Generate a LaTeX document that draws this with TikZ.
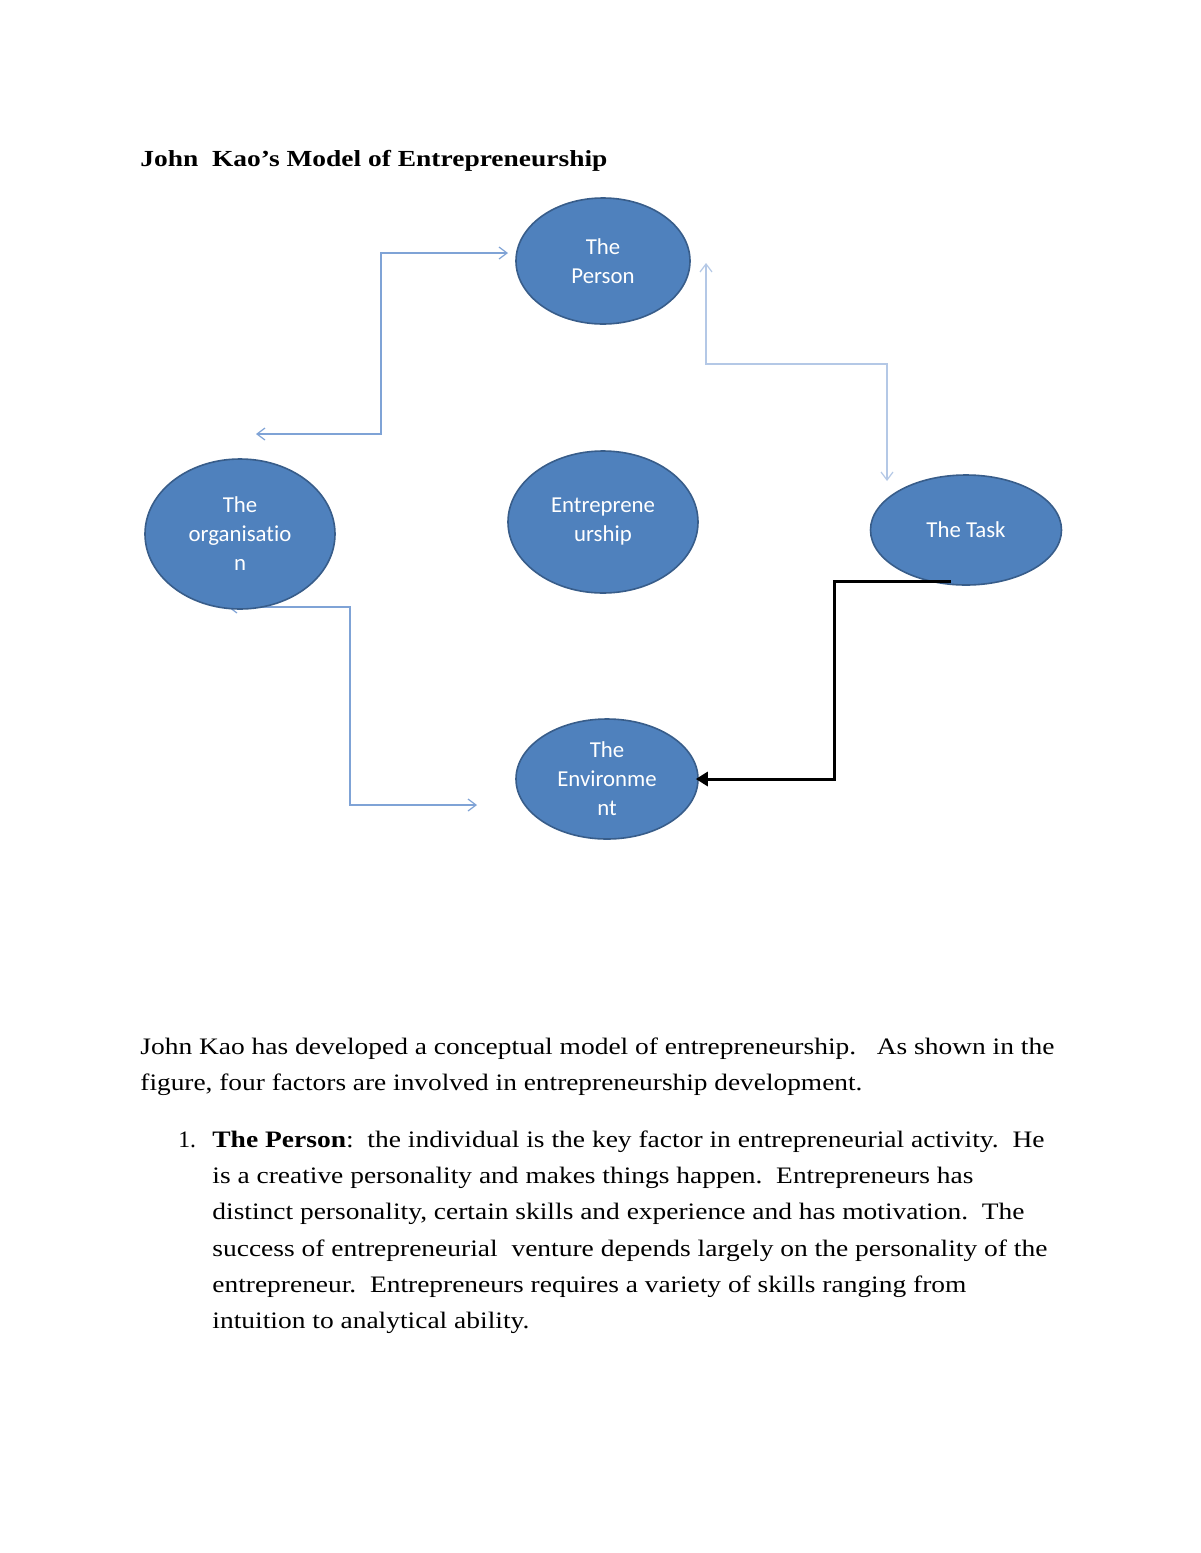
\documentclass[tikz,border=0pt]{standalone}
\usepackage{fontspec}
\setmainfont{Liberation Serif}
\newfontfamily\calib[Ligatures=NoCommon]{Carlito}
\usetikzlibrary{shapes.geometric,arrows.meta}
\definecolor{ovalfill}{HTML}{4F81BD}
\definecolor{ovaldraw}{HTML}{385D8A}
\definecolor{connA}{HTML}{7FA3D6}
\definecolor{connB}{HTML}{B4C8E6}
\newcommand{\fitw}[2]{\resizebox{#1}{\height}{#2}}
\tikzset{
  oval/.style={ellipse, fill=ovalfill, draw=ovaldraw, line width=0.8pt, inner sep=0pt,
    text=white, align=center, font=\calib\fontsize{11.4pt}{14.5pt}\selectfont},
  conn/.style={draw=connA, line width=0.6pt, {Straight Barb[length=4pt,width=6pt]}-{Straight Barb[length=4pt,width=6pt]}},
  connlight/.style={conn, draw=connB},
  thickconn/.style={draw=black, line width=1.5pt, -{Triangle[length=6pt,width=7pt]}},
  bodyline/.style={anchor=base west, inner sep=0pt, font=\fontsize{11.8pt}{14pt}\selectfont},
  titleline/.style={anchor=base west, inner sep=0pt, font=\bfseries\fontsize{11.5pt}{14pt}\selectfont}
}
\begin{document}
\begin{tikzpicture}[x=0.5pt,y=-0.5pt]
\useasboundingbox[fill=white] (0,0) rectangle (1200,1553);

% title
\node[titleline] (title) at (140,166) {\fitw{233.5pt}{John\ \ Kao’s Model of Entrepreneurship}};

% connector end points
\coordinate (c1a) at (256,434);
\coordinate (c1b) at (508,253);
\coordinate (c2a) at (706,263);
\coordinate (c2b) at (887,481);
\coordinate (c3a) at (228,607);
\coordinate (c3b) at (477,805);
\coordinate (c4a) at (951,581);

% connectors (under ovals)
\draw[conn] (c1a) -- ++(125,0) |- (c1b);
\draw[connlight] (c2a) -- ++(0,101) -| (c2b);
\draw[conn] (c3a) -- ++(122,0) |- (c3b);

% ovals (sizes: pixels x 0.5pt)
\node[oval, minimum width=87pt, minimum height=63pt] (person) at (603,261) {The\\Person};
\node[oval, minimum width=95pt, minimum height=75pt] (org) at (240,534) {The\\organisatio\\n};
\node[oval, minimum width=95pt, minimum height=71pt] (entre) at (603,522) {Entreprene\\urship};
\node[oval, minimum width=95.5pt, minimum height=55pt] (task) at (966,530) {The Task};
\node[oval, minimum width=91pt, minimum height=60pt] (env) at (607,779) {The\\Environme\\nt};

% black connector
\draw[thickconn] (c4a) -- ++(-117,0) |- ([xshift=-1.5pt]env.east);

% body text
\node[bodyline] (p1) at (140,1054) {\fitw{457pt}{John Kao has developed a conceptual model of entrepreneurship.\ \ \ As shown in the}};
\node[bodyline] (p2) at (140,1090) {\fitw{361pt}{figure, four factors are involved in entrepreneurship development.}};
\node[bodyline] (n1) at (178,1147) {1.};
\node[bodyline] (i1) at (212,1147) {\fitw{416pt}{\textbf{The Person}:\ \ the individual is the key factor in entrepreneurial activity.\ \ He}};
\node[bodyline] (i2) at (212,1183) {\fitw{380.5pt}{is a creative personality and makes things happen.\ \ Entrepreneurs has}};
\node[bodyline] (i3) at (212,1219) {\fitw{406pt}{distinct personality, certain skills and experience and has motivation.\ \ The}};
\node[bodyline] (i4) at (212,1256) {\fitw{417.5pt}{success of entrepreneurial\ \ venture depends largely on the personality of the}};
\node[bodyline] (i5) at (212,1292) {\fitw{377pt}{entrepreneur.\ \ Entrepreneurs requires a variety of skills ranging from}};
\node[bodyline] (i6) at (212,1328) {\fitw{158.5pt}{intuition to analytical ability.}};
\end{tikzpicture}
\end{document}
